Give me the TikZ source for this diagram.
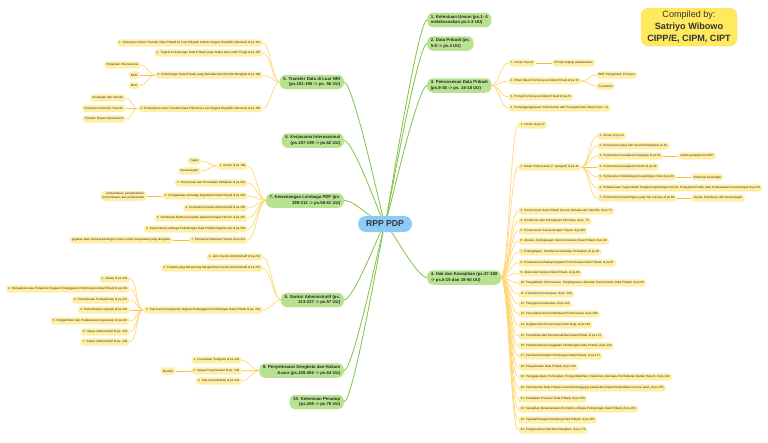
\documentclass[tikz,border=0pt]{standalone}
\usepackage{fontspec}
\setmainfont{Liberation Sans}
\definecolor{rootblue}{HTML}{8CCBF8}
\definecolor{limbgreen}{HTML}{84C64C}
\definecolor{branchfill}{HTML}{B7E391}
\definecolor{leaffill}{HTML}{FFEFA6}
\definecolor{twigorange}{HTML}{FFD673}
\definecolor{stemorange}{HTML}{FDBE3A}
\definecolor{notefill}{HTML}{FFE95E}
\definecolor{inkgrey}{HTML}{333333}
\tikzset{
  pill/.style={rounded corners=3.7pt,fill=leaffill,text=inkgrey,inner xsep=2.4pt,inner ysep=0pt,minimum height=7.4pt,
    font=\fontsize{3.05}{3.7}\selectfont},
  leafr/.style={pill,anchor=west},
  leafl/.style={pill,anchor=east},
  branch/.style={rounded corners=6pt,fill=branchfill,text=black!85,inner xsep=3.6pt,inner ysep=0pt,minimum height=14.5pt,
    font=\fontsize{4.3}{5.4}\selectfont\bfseries},
  branchr/.style={branch,anchor=west,align=left},
  branchl/.style={branch,anchor=east,align=right},
  limb/.style={draw=limbgreen,line width=.85pt,out distance=10pt,in distance=9pt},
  twigr/.style={draw=twigorange,line width=.7pt,out=0,in=180,out distance=7pt,in distance=7pt},
  twigl/.style={draw=twigorange,line width=.7pt,out=180,in=0,out distance=7pt,in distance=7pt},
  stem/.style={draw=stemorange,line width=.8pt},
}
\begin{document}
\begin{tikzpicture}[x=1pt,y=-1pt]
   \useasboundingbox (0,0) rectangle (768,442);

   \node[rounded corners=8pt,fill=rootblue,text=inkgrey,minimum width=54pt,minimum height=16pt,inner sep=0pt,
     font=\fontsize{8.6}{10}\selectfont\bfseries] (rpp) at (385,224) {RPP PDP};

   \node[rounded corners=8pt,fill=notefill,draw=notefill!85!orange,line width=.4pt,minimum width=96pt,minimum height=38pt,inner sep=0pt,
     align=center,text=inkgrey,font=\fontsize{9.1}{11.6}\selectfont] (note) at (689,27)
     {Compiled by:\\ \textbf{Satriyo Wibowo}\\ \textbf{CIPP/E, CIPM, CIPT}};

   \node[branchr] (b1) at (427,20)   {1. Ketentuan Umum (ps.1- 4\\ melaksanakan ps.1-2 UU)};
   \node[branchr] (b2) at (427,43.5) {2. Data Pribadi (ps.\\ 5-8 -> ps.4 UU)};
   \node[branchr] (b3) at (427,85.5) {3. Pemrosesan Data Pribadi\\ (ps.9-36 -> ps. 16-18 UU)};
   \node[branchr] (b4) at (427,277.5) {4. Hak dan Kewajiban (ps.37-188\\ -> ps.5-15 dan 19-50 UU)};
   \node[branchl] (b5) at (344,82)   {5. Transfer Data di Luar NRI\\ (ps.181-196 -> ps. 56 UU)};
   \node[branchl] (b6) at (344,140.5) {6. Kerjasama Internasional\\ (ps.197-198 -> ps.62 UU)};
   \node[branchl] (b7) at (344,200.5) {7. Kewenangan Lembaga PDP (ps.\\ 199-212 -> ps.58-61 UU)};
   \node[branchl] (b8) at (344,300)  {8. Sanksi Administratif (ps.\\ 213-227 -> ps.57 UU)};
   \node[branchl] (b9) at (344,370.5) {9. Penyelesaian Sengketa dan Hukum\\ Acara (ps.228-266 -> ps.64 UU)};
   \node[branchl] (b10) at (344,402) {10. Ketentuan Penutup\\ (ps.269 -> ps.76 UU)};

   \path (rpp) edge[limb,out=78,in=180] (b1.west);
   \path (rpp) edge[limb,out=77,in=180] (b2.west);
   \path (rpp) edge[limb,out=73,in=180] (b3.west);
   \path (rpp) edge[limb,out=-52,in=180] (b4.west);
   \path (rpp) edge[limb,out=106,in=0] (b5.east);
   \path (rpp) edge[limb,out=116,in=0] (b6.east);
   \path (rpp) edge[limb,out=150,in=0] (b7.east);
   \path (rpp) edge[limb,out=242,in=0] (b8.east);
   \path (rpp) edge[limb,out=254,in=0] (b9.east);
   \path (rpp) edge[limb,out=257,in=0] (b10.east);

   \node[leafr] (c1) at (508,63)  {1. Umum di ps.9};
   \node[leafr] (c1a) at (552,63) {Prinsip lingkup pelaksanaan};
   \node[leafr] (c2) at (508,81)  {2. Pihak Dalam Pemrosesan Data Pribadi di ps.15};
   \node[leafr] (c2a) at (596,75) {BMT Pengendali, Prosesor};
   \node[leafr] (c2b) at (596,86) {Co-kontrol};
   \node[leafr] (c3) at (508,97)  {3. Prinsip Pemrosesan Data Pribadi di ps.25};
   \node[leafr] (c4) at (508,108) {4. Pertanggungjelasan Pemrosesan dan Penyalah Data Olausi di ps. 31};

   \path (b3.east) edge[twigr] (c1.west);
   \path (b3.east) edge[twigr] (c2.west);
   \path (b3.east) edge[twigr] (c3.west);
   \path (b3.east) edge[twigr] (c4.west);
   \path (c1) edge[stem] (c1a);
   \path (c2.east) edge[twigr] (c2a.west);
   \path (c2.east) edge[twigr] (c2b.west);

   \node[leafr] (d1) at (518,125) {1. Umum di ps.37};
   \node[leafr] (d2) at (518,167) {2. Dasar Pemrosesan (7 paragraf) di ps.44};
   \node[leafr] (d3) at (518,211) {3. Pemrosesan Data Pribadi Secara Terbatas dan Spesifik, di ps.73};
   \node[leafr] (d4) at (518,221) {4. Pemberian dan Persetujuan Informasi, di ps. 75};
   \node[leafr] (d5) at (518,231) {5. Pemrosesan Sesuai dengan Tujuan, di ps.80};
   \node[leafr] (d6) at (518,241) {6. Akurasi, Kelengkapan, dan Konsistensi Data Pribadi, di ps.82};
   \node[leafr] (d7) at (518,252) {7. Pelengkapan, Pembaruan dan/atau Perbaikan, di ps.85};
   \node[leafr] (d8) at (518,263) {8. Perekaman terhadap Kegiatan Pemrosesan Data Pribadi, di ps.87};
   \node[leafr] (d9) at (518,273) {9. Akses dan Salinan Data Pribadi, di ps.88};
   \node[leafr] (d10) at (518,283) {10. Pengakhiran Pemrosesan, Penghapusan, dan/atau Pemusnahan Data Pribadi, di ps.90};
   \node[leafr] (d11) at (518,294) {11. Penarikan Persetujuan, di ps. 100};
   \node[leafr] (d12) at (518,304) {12. Pengajuan Keberatan, di ps.105};
   \node[leafr] (d13) at (518,314) {13. Penundaan dan Pembatasan Pemrosesan, di ps.108};
   \node[leafr] (d14) at (518,325) {14. Gugatan dan Penerimaan Ganti Rugi, di ps.110};
   \node[leafr] (d15) at (518,336) {15. Portabilitas dan Interoperabilitas Data Pribadi, di ps.121};
   \node[leafr] (d16) at (518,346) {16. Pemberitahuan Kegagalan Pelindungan Data Pribadi, di ps.130};
   \node[leafr] (d17) at (518,356) {17. Penilaian Dampak Pelindungan Data Pribadi, di ps.127};
   \node[leafr] (d18) at (518,367) {18. Pengamanan Data Pribadi, di ps.136};
   \node[leafr] (d19) at (518,377) {19. Penggabungan, Pemisahan, Pengambilalihan, Peleburan, dan/atau Pembubaran Badan Hukum, di ps.140};
   \node[leafr] (d20) at (518,388) {20. Pemrosesan Data Pribadi secara Bertanggung Jawab dan Dapat Diidentifikasi secara Jelas, di ps.155};
   \node[leafr] (d21) at (518,399) {21. Kewajiban Prosesor Data Pribadi, di ps.159};
   \node[leafr] (d22) at (518,409) {22. Kewajiban Melaksanakan Perintah Lembaga Pelindungan Data Pribadi, di ps.163};
   \node[leafr] (d23) at (518,420) {23. Pejabat/Petugas Pelindung Data Pribadi, di ps.165};
   \node[leafr] (d24) at (518,430) {24. Pengecualian Hak dan Kewajiban, di ps.175};

   \path (b4.east) edge[twigr] (d1.west);
   \path (b4.east) edge[twigr] (d2.west);
   \path (b4.east) edge[twigr] (d3.west);
   \path (b4.east) edge[twigr] (d4.west);
   \path (b4.east) edge[twigr] (d5.west);
   \path (b4.east) edge[twigr] (d6.west);
   \path (b4.east) edge[twigr] (d7.west);
   \path (b4.east) edge[twigr] (d8.west);
   \path (b4.east) edge[twigr] (d9.west);
   \path (b4.east) edge[twigr] (d10.west);
   \path (b4.east) edge[twigr] (d11.west);
   \path (b4.east) edge[twigr] (d12.west);
   \path (b4.east) edge[twigr] (d13.west);
   \path (b4.east) edge[twigr] (d14.west);
   \path (b4.east) edge[twigr] (d15.west);
   \path (b4.east) edge[twigr] (d16.west);
   \path (b4.east) edge[twigr] (d17.west);
   \path (b4.east) edge[twigr] (d18.west);
   \path (b4.east) edge[twigr] (d19.west);
   \path (b4.east) edge[twigr] (d20.west);
   \path (b4.east) edge[twigr] (d21.west);
   \path (b4.east) edge[twigr] (d22.west);
   \path (b4.east) edge[twigr] (d23.west);
   \path (b4.east) edge[twigr] (d24.west);

   \node[leafr] (e1) at (597,136) {1. Umum di ps.44};
   \node[leafr] (e2) at (597,146) {2. Persetujuan yang Sah Secara Eksplisit di ps.45};
   \node[leafr] (e3) at (597,156) {3. Pemenuhan Kewajiban Perjanjian di ps.54};
   \node[leafr] (e3a) at (678,156) {Istilah perjanjian ke BKP};
   \node[leafr] (e4) at (597,167) {4. Pemenuhan Kewajiban Hukum di ps.59};
   \node[leafr] (e5) at (597,177) {5. Pemenuhan Pelindungan Kepentingan Vital di ps.60};
   \node[leafr] (e5a) at (691,177) {Informasi kesehatan};
   \node[leafr] (e6) at (597,188) {6. Pelaksanaan Tugas dalam Rangka Kepentingan Umum, Pelayanan Publik, atau Pelaksanaan Kewenangan di ps.64};
   \node[leafr] (e7) at (597,198) {7. Pemenuhan Kepentingan yang Sah Lainnya di ps.66};
   \node[leafr] (e7a) at (691,198) {Syarat, ketentuan, dan kewenangan};

   \path (d2.east) edge[twigr] (e1.west);
   \path (d2.east) edge[twigr] (e2.west);
   \path (d2.east) edge[twigr] (e3.west);
   \path (d2.east) edge[stem] (e4.west);
   \path (d2.east) edge[twigr] (e5.west);
   \path (d2.east) edge[twigr] (e6.west);
   \path (d2.east) edge[twigr] (e7.west);
   \path (e3) edge[stem] (e3a);
   \path (e5) edge[stem] (e5a);
   \path (e7) edge[stem] (e7a);

   \node[leafl] (f1) at (263,43)  {1. Ketentuan Umum Transfer Data Pribadi ke Luar Wilayah Hukum Negara Republik Indonesia di ps.181};
   \node[leafl] (f2) at (263,53)  {2. Tingkat Pelindungan Data Pribadi yang Setara atau Lebih Tinggi di ps.185};
   \node[leafl] (f3) at (263,75)  {3. Pelindungan Data Pribadi yang Memadai dan Bersifat Mengikat di ps.188};
   \node[leafl] (f3a) at (141,65) {Perjanjian Internasional};
   \node[leafl] (f3b) at (140,75) {BCR};
   \node[leafl] (f3c) at (140,85.5) {MoU};
   \node[leafl] (f4) at (263,108.5) {4. Persetujuan untuk Transfer Data Pribadi ke Luar Negara Republik Indonesia di ps.190};
   \node[leafl] (f4a) at (126,98) {Keuangan dan transfer};
   \node[leafl] (f4b) at (126,108.5) {Penilaian Instrumen Transfer};
   \node[leafl] (f4c) at (126,119) {Transfer Impact Assessment};

   \path (b5.west) edge[twigl] (f1.east);
   \path (b5.west) edge[twigl] (f2.east);
   \path (b5.west) edge[twigl] (f3.east);
   \path (b5.west) edge[twigl] (f4.east);
   \path (f3.west) edge[twigl] (f3a.east);
   \path (f3) edge[stem] (f3b);
   \path (f3.west) edge[twigl] (f3c.east);
   \path (f4.west) edge[twigl] (f4a.east);
   \path (f4) edge[stem] (f4b);
   \path (f4.west) edge[twigl] (f4c.east);

   \node[leafl] (g1) at (248,166) {1. Umum di ps.199};
   \node[leafl] (g1a) at (201,161) {Tugas};
   \node[leafl] (g1b) at (201,171) {Kewenangan};
   \node[leafl] (g2) at (248,183) {2. Perumusan dan Penetapan Kebijakan di ps.201};
   \node[leafl] (g3) at (248,196) {3. Pengawasan terhadap Kepatuhan Data Pribadi di ps.203};
   \node[leafl,align=right,rounded corners=5pt,minimum height=10pt] (g3a) at (147,196) {pemantauan, pengendalian,\\ pemeriksaan, dan penelusuran};
   \node[leafl] (g4) at (248,208) {4. Penjatuhan Sanksi Administratif di ps.205};
   \node[leafl] (g5) at (248,218) {5. Pemberian Bantuan Kepada Aparat Penegak Hukum di ps.207};
   \node[leafl] (g6) at (248,229) {6. Kerja Sama Lembaga Pelindungan Data Pribadi Negara Lain di ps.209};
   \node[leafl] (g7) at (248,240) {7. Pemberian Bantuan Hukum di ps.211};
   \node[leafl] (g7a) at (173,240) {gugatan atas nama kepentingan umum untuk masyarakat yang dirugikan};

   \path (b7.west) edge[twigl] (g1.east);
   \path (b7.west) edge[twigl] (g2.east);
   \path (b7.west) edge[twigl] (g3.east);
   \path (b7.west) edge[twigl] (g4.east);
   \path (b7.west) edge[twigl] (g5.east);
   \path (b7.west) edge[twigl] (g6.east);
   \path (b7.west) edge[twigl] (g7.east);
   \path (g1.west) edge[twigl] (g1a.east);
   \path (g1.west) edge[twigl] (g1b.east);
   \path (g3) edge[stem] (g3a);
   \path (g7) edge[stem] (g7a);

   \node[leafl] (h1) at (263,257) {1. Jenis Sanksi Administratif di ps.214};
   \node[leafl] (h2) at (263,268) {2. Pejabat yang Berwenang Menjatuhkan Sanksi Administratif di ps.216};
   \node[leafl] (h3) at (263,310) {3. Tata Cara Penanganan Dugaan Pelanggaran Pelindungan Data Pribadi di ps. 219};
   \node[leafl] (h3a) at (130,279) {1. Aduan di ps.219};
   \node[leafl] (h3b) at (130,289) {2. Pengaduan atau Pelaporan Dugaan Pelanggaran Pelindungan Data Pribadi di ps.219};
   \node[leafl] (h3c) at (130,300) {3. Pemeriksaan Pendahuluan di ps.221};
   \node[leafl] (h3d) at (130,310) {4. Pemeriksaan Lanjutan di ps.222};
   \node[leafl] (h3e) at (130,321) {5. Pengambilan dan Pelaksanaan Keputusan di ps.223};
   \node[leafl] (h3f) at (130,332) {6. Upaya Administratif di ps. 224};
   \node[leafl] (h3g) at (130,342) {7. Sanksi Administratif di ps. 226};

   \path (b8.west) edge[twigl] (h1.east);
   \path (b8.west) edge[twigl] (h2.east);
   \path (b8.west) edge[twigl] (h3.east);
   \path (h3.west) edge[twigl] (h3a.east);
   \path (h3.west) edge[twigl] (h3b.east);
   \path (h3.west) edge[twigl] (h3c.east);
   \path (h3) edge[stem] (h3d);
   \path (h3.west) edge[twigl] (h3e.east);
   \path (h3.west) edge[twigl] (h3f.east);
   \path (h3.west) edge[twigl] (h3g.east);

   \node[leafl] (i1) at (242,360) {1. Penjelasan Sengketa di ps.228};
   \node[leafl] (i2) at (242,371) {2. Upaya Penyelesaian di ps. 230};
   \node[leafl] (i2a) at (176,371) {Mediasi};
   \node[leafl] (i3) at (242,381) {3. Tata Cara Mediasi di ps.232};

   \path (b9.west) edge[twigl] (i1.east);
   \path (b9) edge[stem] (i2);
   \path (b9.west) edge[twigl] (i3.east);
   \path (i2) edge[stem] (i2a);

\end{tikzpicture}
\end{document}
